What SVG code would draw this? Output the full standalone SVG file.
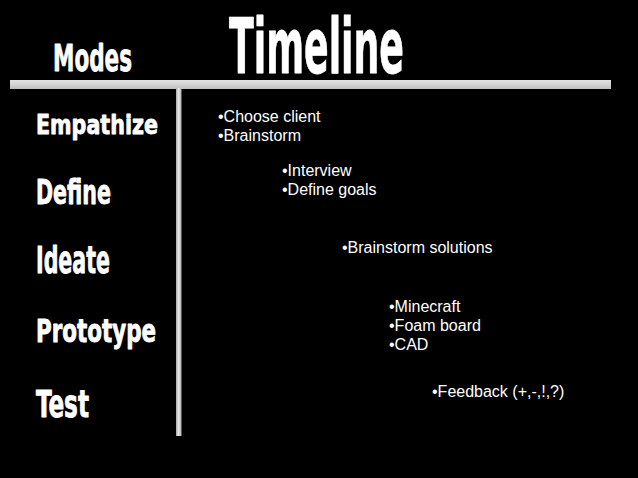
<svg xmlns="http://www.w3.org/2000/svg" width="638" height="478" viewBox="0 0 638 478">
  <style>
    .head { font-family: "Liberation Sans Narrow", "DejaVu Sans Condensed", "Liberation Sans", sans-serif; font-weight: bold; fill: #ffffff; stroke: #ffffff; stroke-width: 0.8; stroke-linejoin: round; }
    .body { font-family: "Liberation Sans", Arial, sans-serif; font-size: 16px; fill: #ffffff; }
  </style>
  <defs>
    <linearGradient id="hbar" x1="0" y1="0" x2="0" y2="1">
      <stop offset="0" stop-color="#e2e2e2"/>
      <stop offset="0.5" stop-color="#d4d4d4"/>
      <stop offset="1" stop-color="#bdbdbd"/>
    </linearGradient>
    <linearGradient id="vbar" x1="0" y1="0" x2="1" y2="0">
      <stop offset="0" stop-color="#a8a8a8"/>
      <stop offset="0.45" stop-color="#e6e6e6"/>
      <stop offset="1" stop-color="#b0b0b0"/>
    </linearGradient>
  </defs>
  <rect width="638" height="478" fill="#000000"/>

  <g id="bars">
    <rect x="10" y="80" width="601" height="9" fill="url(#hbar)"/>
    <rect x="176" y="88" width="5.5" height="348" fill="url(#vbar)"/>
  </g>

  <g id="titles">
    <text class="head" x="53" y="71" font-size="38" textLength="79" lengthAdjust="spacingAndGlyphs">Modes</text>
    <text class="head" x="229" y="73" font-size="77" textLength="175" lengthAdjust="spacingAndGlyphs">Timeline</text>
  </g>

  <g id="modes">
    <text class="head" x="36" y="134" font-size="27" textLength="122" lengthAdjust="spacingAndGlyphs">Empathize</text>
    <text class="head" x="36" y="204" font-size="33" textLength="75" lengthAdjust="spacingAndGlyphs">Define</text>
    <text class="head" x="36" y="273" font-size="38" textLength="74" lengthAdjust="spacingAndGlyphs">Ideate</text>
    <text class="head" x="36" y="342" font-size="32" textLength="120" lengthAdjust="spacingAndGlyphs">Prototype</text>
    <text class="head" x="36" y="417" font-size="37" textLength="53" lengthAdjust="spacingAndGlyphs">Test</text>
  </g>

  <g id="empathize-items">
    <text class="body" x="218" y="122">•Choose client</text>
    <text class="body" x="218" y="141">•Brainstorm</text>
  </g>
  <g id="define-items">
    <text class="body" x="282" y="176">•Interview</text>
    <text class="body" x="282" y="195">•Define goals</text>
  </g>
  <g id="ideate-items">
    <text class="body" x="342" y="253">•Brainstorm solutions</text>
  </g>
  <g id="prototype-items">
    <text class="body" x="389" y="312">•Minecraft</text>
    <text class="body" x="389" y="331">•Foam board</text>
    <text class="body" x="389" y="350">•CAD</text>
  </g>
  <g id="test-items">
    <text class="body" x="432" y="397">•Feedback (+,-,!,?)</text>
  </g>
</svg>
